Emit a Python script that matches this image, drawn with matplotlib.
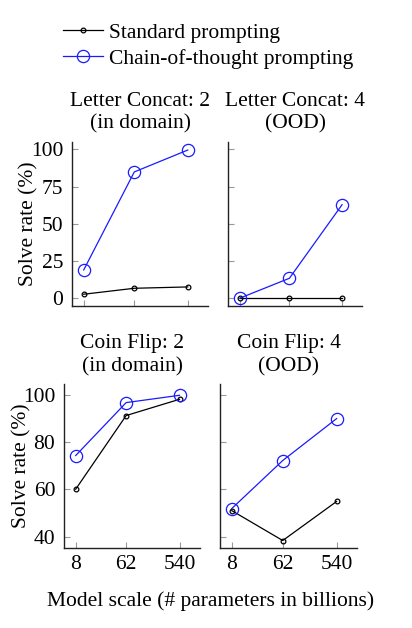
import matplotlib
matplotlib.use("Agg")
import matplotlib.pyplot as plt
from matplotlib.lines import Line2D
import matplotlib.transforms as mtransforms

plt.rcParams['font.family'] = ['Liberation Serif', 'DejaVu Serif']
plt.rcParams['mathtext.fontset'] = 'stix'

FS = 15.5

# ---------------- data ----------------
model_scale = [8, 62, 540]
x_ticklabels = ["8", "62", "540"]

letter2_standard = [2.7, 6.7, 7.6]
letter2_cot = [19.0, 84.8, 99.5]
letter4_standard = [0.0, 0.0, 0.0]
letter4_cot = [0.0, 13.4, 62.8]

coin2_standard = [60.1, 91.4, 98.3]
coin2_cot = [74.4, 96.9, 100.0]
coin4_standard = [51.0, 38.3, 54.9]
coin4_cot = [51.9, 72.3, 90.1]

titles = [("Letter Concat: 2", "(in domain)"), ("Letter Concat: 4", "(OOD)"),
          ("Coin Flip: 2", "(in domain)"), ("Coin Flip: 4", "(OOD)")]
top_yticks = [0, 25, 50, 75, 100]
bottom_yticks = [40, 60, 80, 100]
legend_labels = ["Standard prompting", "Chain-of-thought prompting"]
ylabel = "Solve rate (%)"
xlabel = "Model scale (# parameters in billions)"

W, H = 412, 628
fig = plt.figure(figsize=(W / 100, H / 100), dpi=100)


def add_ax(left, right, top, bottom):
    return fig.add_axes([left / W, (H - bottom) / H, (right - left) / W, (bottom - top) / H])


ax_tl = add_ax(72, 208.3, 142, 306)
ax_tr = add_ax(228, 362.3, 142, 306)
ax_bl = add_ax(64, 200, 384, 548.3)
ax_br = add_ax(220, 357.3, 384, 548.3)

std_style = dict(color='black', lw=0.9, marker='o', markersize=3.4,
                 markerfacecolor='none', markeredgecolor='black', markeredgewidth=0.9)
cot_style = dict(color='#1a1aff', lw=0.9, marker='o', markersize=8.8,
                 markerfacecolor='none', markeredgecolor='#1a1aff', markeredgewidth=0.9)

panels = [
    (ax_tl, letter2_standard, letter2_cot, top_yticks, (-5.2, 104.9), True),
    (ax_tr, letter4_standard, letter4_cot, top_yticks, (-5.2, 104.9), False),
    (ax_bl, coin2_standard, coin2_cot, bottom_yticks, (35.0, 104.8), True),
    (ax_br, coin4_standard, coin4_cot, bottom_yticks, (35.0, 104.8), False),
]

bottom_row = [False, False, True, True]

for i, (ax, std, cot, yt, ylim, show_y) in enumerate(panels):
    ax.plot(model_scale, std, **std_style, zorder=3)
    ax.plot(model_scale, cot, **cot_style, zorder=4)
    ax.set_xscale('log')
    ax.set_xlim(4.98, 1240)
    ax.set_ylim(*ylim)
    ax.minorticks_off()
    ax.set_xticks(model_scale)
    if bottom_row[i]:
        ax.set_xticklabels(x_ticklabels, fontsize=FS)
    else:
        ax.set_xticklabels([])
    ax.set_yticks(yt)
    if show_y:
        ax.set_yticklabels([str(v) for v in yt], fontsize=FS)
    else:
        ax.set_yticklabels([])
    for s in ['top', 'right']:
        ax.spines[s].set_visible(False)
    for s in ['left', 'bottom']:
        ax.spines[s].set_linewidth(1.0)
        ax.spines[s].set_color('#222222')
    ax.tick_params(axis='both', which='major', direction='in', length=4,
                   width=0.8, color='#999999', labelcolor='black')
    ax.tick_params(axis='y', pad=6.3)
    ax.tick_params(axis='x', pad=5.0)
    ax.set_facecolor('none')
    for ln in ax.lines:
        ln.set_clip_on(False)

# titles (two lines each)
title_baselines = [(105.7, 128.3), (105.7, 128.3), (348.3, 371.3), (348.3, 371.3)]
for ax, (l1, l2), (b1, b2) in zip([ax_tl, ax_tr, ax_bl, ax_br], titles, title_baselines):
    tr = mtransforms.blended_transform_factory(ax.transAxes, fig.transFigure)
    ax.text(0.5, 1 - b1 / H, l1, transform=tr, ha='center', va='baseline', fontsize=FS)
    ax.text(0.5, 1 - b2 / H, l2, transform=tr, ha='center', va='baseline', fontsize=FS)

# y labels
fig.text(28.5 / W, 1 - 223.5 / H, ylabel, rotation=90, ha='center', va='center', fontsize=FS)
fig.text(22 / W, 1 - 465.5 / H, ylabel, rotation=90, ha='center', va='center', fontsize=FS)

# x label
fig.text(210.8 / W, 1 - 601.5 / H, xlabel, ha='center', va='center', fontsize=FS)

# legend
handles = [Line2D([], [], **std_style), Line2D([], [], **cot_style)]
fig.legend(handles, legend_labels, loc='upper left', bbox_to_anchor=(63 / W, 1 - 22.5 / H),
           frameon=False, fontsize=FS, handlelength=1.85, handletextpad=0.3,
           labelspacing=0.28, borderpad=0, borderaxespad=0)

fig.savefig("out.png", dpi=100)
